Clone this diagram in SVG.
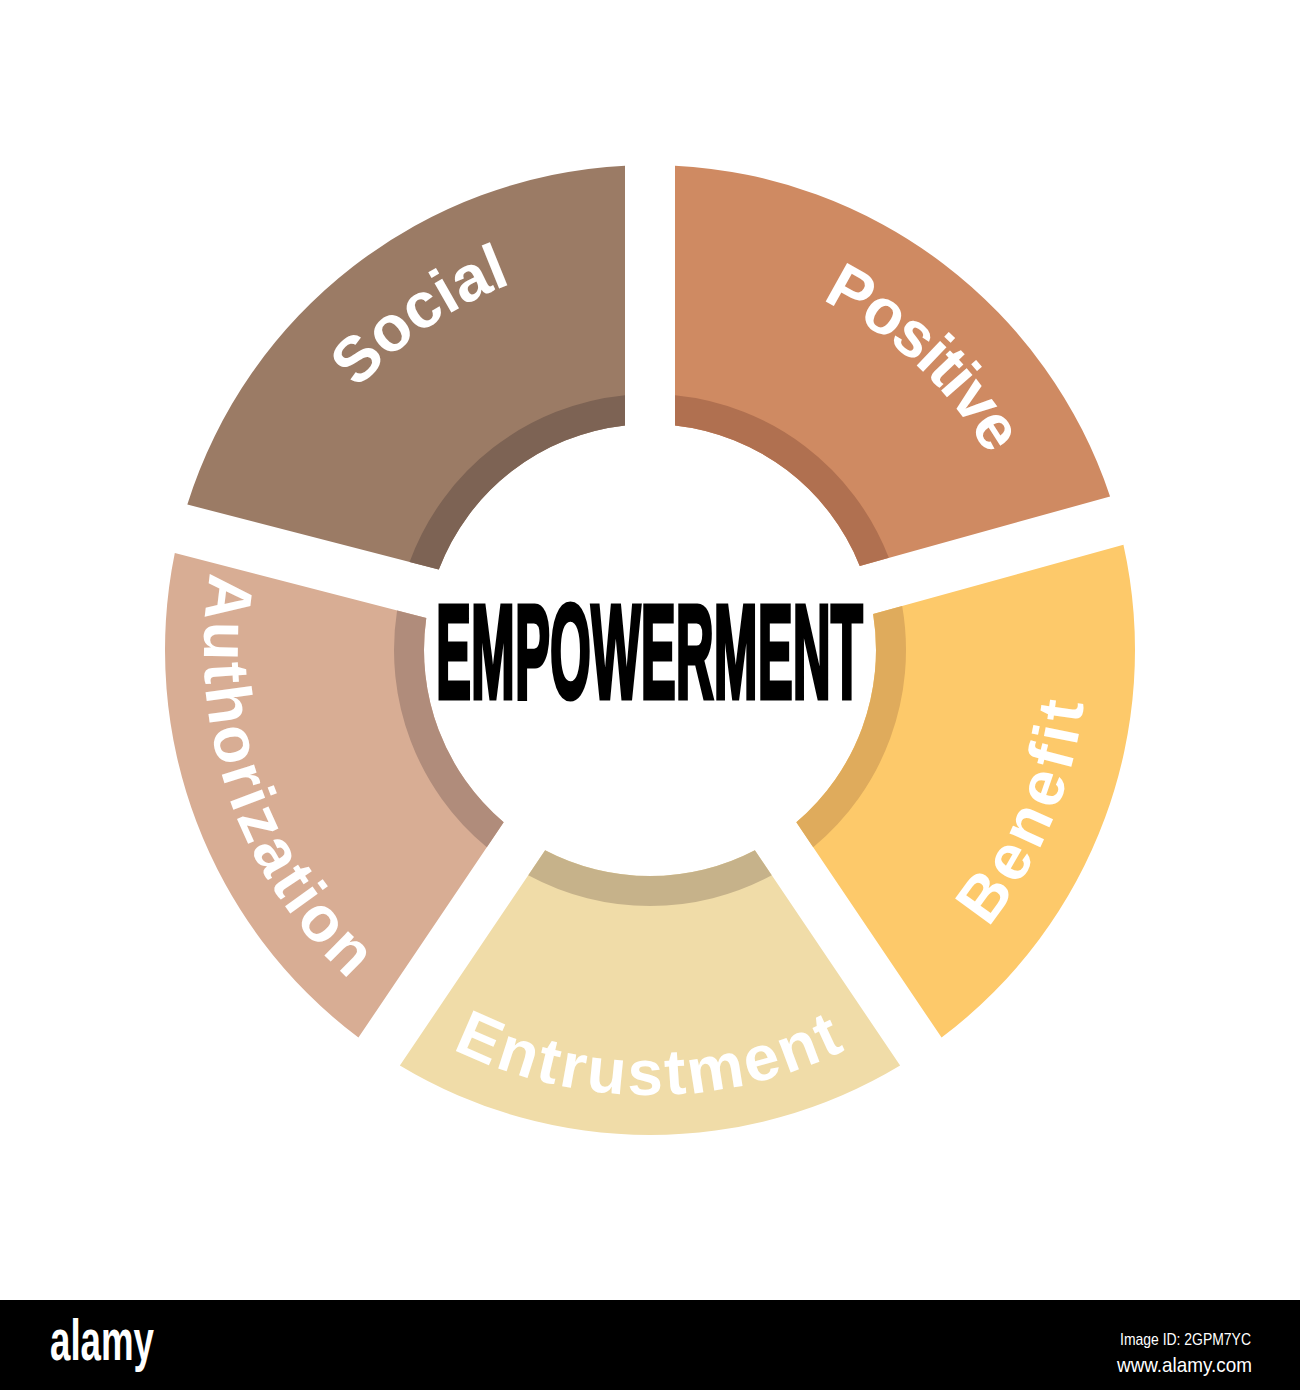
<svg xmlns="http://www.w3.org/2000/svg" width="1300" height="1390" viewBox="0 0 1300 1390">
  <style>
    .lbl { font-family: "Liberation Sans", Arial, sans-serif; font-weight: bold; font-size: 64px; fill: #ffffff; }
    .title { font-family: "Liberation Sans", Arial, sans-serif; font-weight: bold; font-size: 133px; fill: #000000; stroke: #000000; stroke-width: 5; stroke-linejoin: miter; }
    .foot { font-family: "Liberation Sans Narrow", "Liberation Sans", Arial, sans-serif; fill: #ffffff; }
  </style>
  <defs>
    <path id="pSocial" d="M 264.56 578.56 A 393 393 0 0 1 721.44 264.56" fill="none"/>
    <path id="pPositive" d="M 636.39 260.24 A 390 390 0 0 1 1039.76 636.39" fill="none"/>
    <path id="pBenefit" d="M 849.07 1039.02 A 437 437 0 0 0 1067.68 521.50" fill="none"/>
    <path id="pEntrust" d="M 335.34 964.66 A 445 445 0 0 0 964.66 964.66" fill="none"/>
    <path id="pAuth" d="M 233.62 490.17 A 446 446 0 0 0 420.29 1032.30" fill="none"/>
  </defs>
  <rect x="0" y="0" width="1300" height="1390" fill="#ffffff"/>

  <g id="node-social">
    <path d="M 187.33 504.52 A 485 485 0 0 1 625 165.65 L 625 425.39 A 226 226 0 0 0 438.80 569.56 Z" fill="#9B7B65"/>
    <path d="M 409.60 562.01 A 256 256 0 0 1 625 395.22 L 625 425.39 A 226 226 0 0 0 438.80 569.56 Z" fill="#7D6354"/>
    <text class="lbl"><textPath href="#pSocial" startOffset="50%" text-anchor="middle">Social</textPath></text>
  </g>

  <g id="node-positive">
    <path d="M 675 165.65 A 485 485 0 0 1 1110.06 496.47 L 859.76 565.88 A 226 226 0 0 0 675 425.39 Z" fill="#CF8A62"/>
    <path d="M 675 395.22 A 256 256 0 0 1 888.83 557.82 L 859.76 565.88 A 226 226 0 0 0 675 425.39 Z" fill="#B07050"/>
    <text class="lbl" letter-spacing="-2"><textPath href="#pPositive" startOffset="50%" text-anchor="middle">Positive</textPath></text>
  </g>

  <g id="node-benefit">
    <path d="M 1123.42 544.65 A 485 485 0 0 1 941.57 1037.57 L 796.33 822.23 A 226 226 0 0 0 873.13 614.07 Z" fill="#FDC96A"/>
    <path d="M 902.19 606.01 A 256 256 0 0 1 813.20 847.24 L 796.33 822.23 A 226 226 0 0 0 873.13 614.07 Z" fill="#DFAB5C"/>
    <text class="lbl" letter-spacing="5"><textPath href="#pBenefit" startOffset="50%" text-anchor="middle">Benefit</textPath></text>
  </g>

  <g id="node-entrustment">
    <path d="M 900.12 1065.53 A 485 485 0 0 1 399.88 1065.53 L 545.12 850.19 A 226 226 0 0 0 754.88 850.19 Z" fill="#F0DCA8"/>
    <path d="M 771.74 875.20 A 256 256 0 0 1 528.26 875.20 L 545.12 850.19 A 226 226 0 0 0 754.88 850.19 Z" fill="#C6B28A"/>
    <text class="lbl" letter-spacing="3"><textPath href="#pEntrust" startOffset="50%" text-anchor="middle">Entrustment</textPath></text>
  </g>

  <g id="node-authorization">
    <path d="M 358.43 1037.57 A 485 485 0 0 1 174.81 552.93 L 426.28 617.96 A 226 226 0 0 0 503.67 822.23 Z" fill="#D8AD94"/>
    <path d="M 486.81 847.24 A 256 256 0 0 1 397.08 610.41 L 426.28 617.96 A 226 226 0 0 0 503.67 822.23 Z" fill="#B08C7B"/>
    <text class="lbl" letter-spacing="3"><textPath href="#pAuth" startOffset="50%" text-anchor="middle">Authorization</textPath></text>
  </g>

  <g id="node-center">
    <text class="title" x="436" y="697.5" textLength="427" lengthAdjust="spacingAndGlyphs">EMPOWERMENT</text>
  </g>

  <g id="connectors"></g>

  <g id="footer">
    <rect x="0" y="1300" width="1300" height="90" fill="#000000"/>
    <text class="foot" x="50" y="1360" font-size="58" font-weight="bold" textLength="104" lengthAdjust="spacingAndGlyphs">alamy</text>
    <text class="foot" x="1120" y="1345" font-size="17" textLength="131" lengthAdjust="spacingAndGlyphs">Image ID: 2GPM7YC</text>
    <text class="foot" x="1117" y="1372" font-size="21" textLength="135" lengthAdjust="spacingAndGlyphs">www.alamy.com</text>
  </g>
</svg>
